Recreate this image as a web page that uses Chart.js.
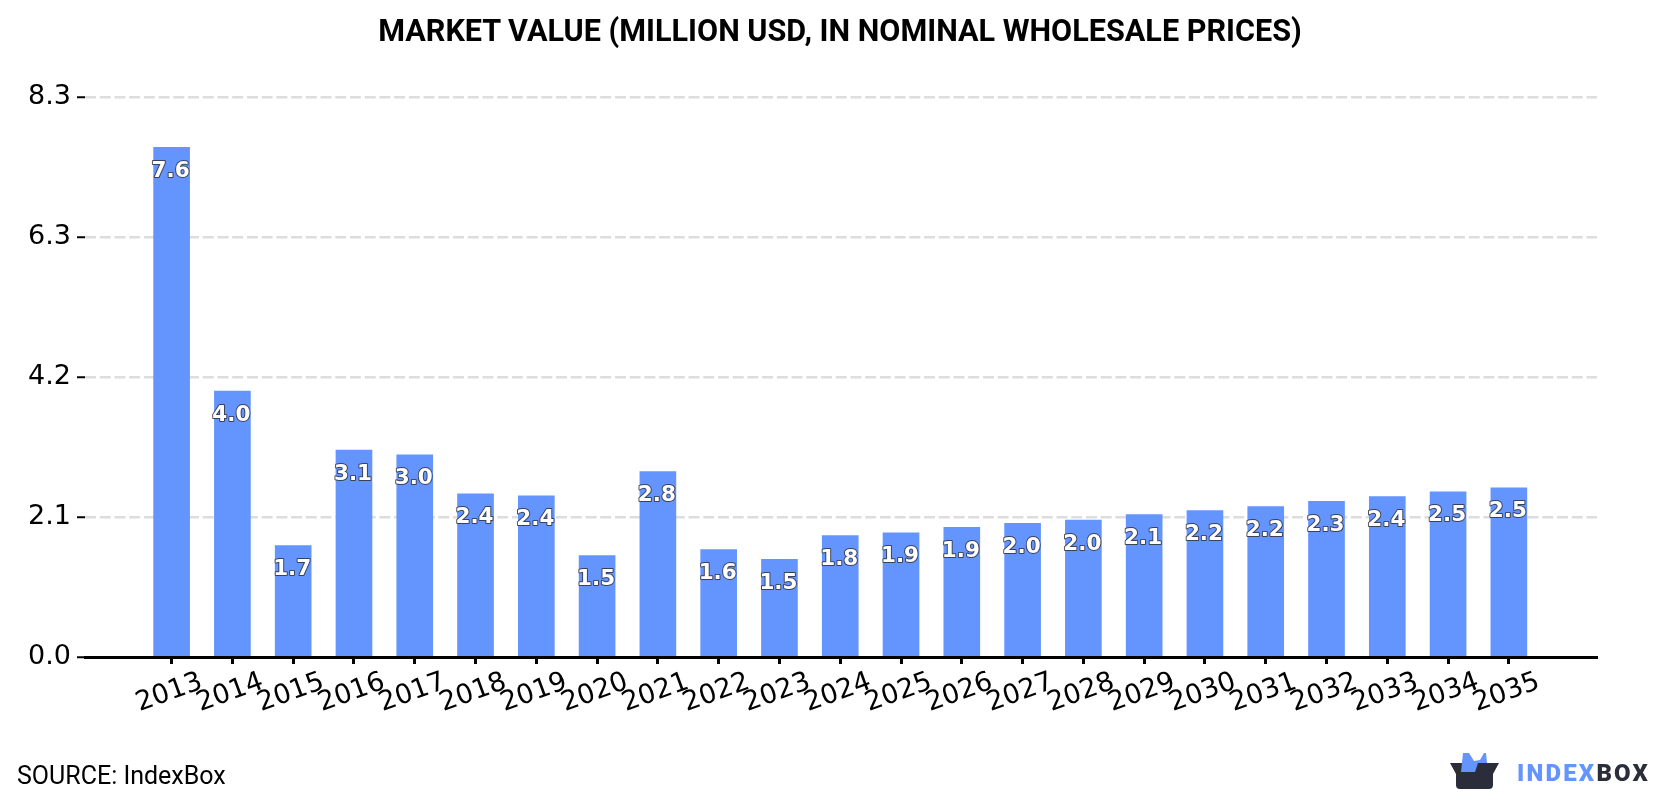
<!DOCTYPE html>
<html>
<head>
<meta charset="utf-8">
<title>Market value</title>
<style>
  html, body { margin: 0; padding: 0; background: #fff; }
  #stage { position: relative; width: 1680px; height: 800px; overflow: hidden; }
  canvas { position: absolute; left: 0; top: 0; }
  #title { position: absolute; left: 0; width: 1680px; top: 13px; text-align: center; font: 700 30.6px Roboto, sans-serif; color: #000; white-space: nowrap; }
  #source { position: absolute; left: 17px; top: 761px; font: 400 25px Roboto, sans-serif; color: #000; white-space: nowrap; }
  #logo { position: absolute; left: 1450px; top: 752px; }
  #brand { position: absolute; left: 1517px; top: 759px; font: 900 24px Roboto, sans-serif; letter-spacing: 2.2px; color: #6495ff; white-space: nowrap; }
  #brand span { color: #2b2d3a; }
</style>
<script src="https://cdn.jsdelivr.net/npm/chart.js@4/dist/chart.umd.min.js"></script>
</head>
<body>
<div id="stage">
  <canvas id="chart" width="1680" height="800"></canvas>
  <div id="title">MARKET VALUE (MILLION USD, IN NOMINAL WHOLESALE PRICES)</div>
  <div id="source">SOURCE: IndexBox</div>
  <svg id="logo" width="50" height="38" viewBox="0 0 50 38">
    <path d="M0 11 H49 L43 22 V33 Q43 37 39 37 H10 Q6 37 6 33 V22 Z" fill="#2b2d3a"/>
    <path d="M11 20 L13 1 L19 1 L24 9 L30 8 L34 1 L36 1 L37 11 L28 11 L25 20 Z" fill="#6495ff"/>
  </svg>
  <div id="brand">INDEX<span>BOX</span></div>
</div>
<script>
const years = [2013, 2014, 2015, 2016, 2017, 2018, 2019, 2020, 2021, 2022, 2023, 2024,
               2025, 2026, 2027, 2028, 2029, 2030, 2031, 2032, 2033, 2034, 2035];
const marketValue = [7.59, 3.96, 1.66, 3.08, 3.01, 2.43, 2.40, 1.51, 2.76, 1.60, 1.455, 1.81,
                     1.85, 1.93, 1.99, 2.04, 2.12, 2.18, 2.24, 2.32, 2.39, 2.46, 2.52];
const valueTicks = [0, 2.085, 4.17, 6.255, 8.34];

// Writes each bar's value just under its top, white with a thin dark outline.
const barValueLabels = {
  id: 'barValueLabels',
  afterDatasetsDraw(chart) {
    const { ctx } = chart;
    const meta = chart.getDatasetMeta(0);
    ctx.save();
    ctx.font = '700 21.5px "DejaVu Sans"';
    ctx.textAlign = 'center';
    ctx.textBaseline = 'middle';
    ctx.lineJoin = 'round';
    meta.data.forEach((bar, i) => {
      const text = marketValue[i].toFixed(1);
      ctx.lineWidth = 2;
      ctx.strokeStyle = 'rgba(50,50,60,0.85)';
      ctx.strokeText(text, bar.x - 1, bar.y + 24);
      ctx.fillStyle = '#fff';
      ctx.fillText(text, bar.x - 1, bar.y + 24);
    });
    ctx.restore();
  }
};

new Chart(document.getElementById('chart'), {
  type: 'bar',
  data: {
    datasets: [{
      data: years.map((y, i) => ({ x: y, y: marketValue[i] })),
      backgroundColor: '#6495ff',
      borderWidth: 0,
      barThickness: 36
    }]
  },
  options: {
    responsive: false,
    animation: false,
    layout: { padding: { left: 0, right: 83, top: 97, bottom: 0 } },
    plugins: {
      legend: { display: false },
      tooltip: { enabled: false },
      title: { display: false }
    },
    scales: {
      x: {
        type: 'linear',
        offset: false,
        bounds: 'data',
        min: 2011.575,
        max: 2036.45,
        afterBuildTicks(axis) { axis.ticks = years.map(v => ({ value: v })); },
        afterFit(axis) { axis.height = 143; },
        border: { color: '#000', width: 3 },
        grid: { offset: false, drawOnChartArea: false, drawTicks: true, tickLength: 7, tickColor: '#000', tickWidth: 3 },
        ticks: {
          autoSkip: false,
          minRotation: 20,
          maxRotation: 20,
          padding: 2,
          labelOffset: 30,
          color: '#000',
          font: { family: 'DejaVu Sans', size: 27 },
          callback: v => String(v)
        }
      },
      y: {
        min: 0,
        max: 8.34,
        afterBuildTicks(axis) { axis.ticks = valueTicks.map(v => ({ value: v })); },
        afterFit(axis) { axis.width = 85; },
        border: { display: false, dash: [11, 3.72] },
        grid: {
          color: '#dddddd',
          lineWidth: 2.5,
          drawTicks: true,
          tickLength: 8,
          tickColor: '#000',
          tickWidth: 2,
          tickBorderDash: []
        },
        ticks: {
          padding: 6,
          color: '#000',
          font: { family: 'DejaVu Sans', size: 27 },
          callback: v => v.toFixed(1)
        }
      }
    }
  },
  plugins: [barValueLabels]
});
</script>
</body>
</html>
